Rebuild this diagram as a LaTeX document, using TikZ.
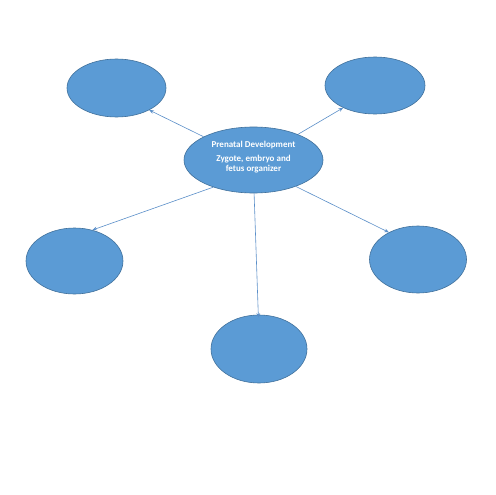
\documentclass[tikz,border=0pt]{standalone}
\usepackage{fontspec}
\setmainfont{Carlito}
\usetikzlibrary{arrows.meta,shapes.geometric}
\definecolor{bubblefill}{HTML}{5B9BD5}
\definecolor{bubbleline}{HTML}{41719C}
\definecolor{linkline}{HTML}{5B8FC9}
\tikzset{
  bubble/.style={ellipse, fill=bubblefill, draw=bubbleline, line width=0.6pt, inner sep=0pt},
  arrow/.style={-{Stealth[length=1.6mm, width=1.3mm]}, draw=linkline, line width=0.6pt},
}

\begin{document}
\begin{tikzpicture}[x=1pt, y=-1pt]
      \useasboundingbox[fill=white] (0,0) rectangle (495,495);
      \node[bubble, minimum width=139pt, minimum height=66pt, align=center,
            text=white, font=\bfseries\fontsize{9}{10}\selectfont] (hub) at (253.5,160)
            {Prenatal Development\\[4pt]Zygote, embryo and\\fetus organizer\\[-2pt]};
      \node[bubble, minimum width=99pt, minimum height=58pt] (tl) at (116.5,88) {};
      \node[bubble, minimum width=100pt, minimum height=57pt] (tr) at (375,85.5) {};
      \node[bubble, minimum width=97pt, minimum height=66pt] (lt) at (74.5,261) {};
      \node[bubble, minimum width=97pt, minimum height=67pt] (rt) at (418,259.5) {};
      \node[bubble, minimum width=96pt, minimum height=68pt] (bt) at (259,349) {};

      \draw[arrow] (hub.155) -- (tl.-34);
      \draw[arrow] (hub.30) -- (tr.-145);
      \draw[arrow] (hub.-146) -- (lt.60);
      \draw[arrow] (hub.-89) -- ([yshift=-3pt]bt.91);
      \draw[arrow] (hub.-32) -- (rt.137);
    \end{tikzpicture}
\end{document}
